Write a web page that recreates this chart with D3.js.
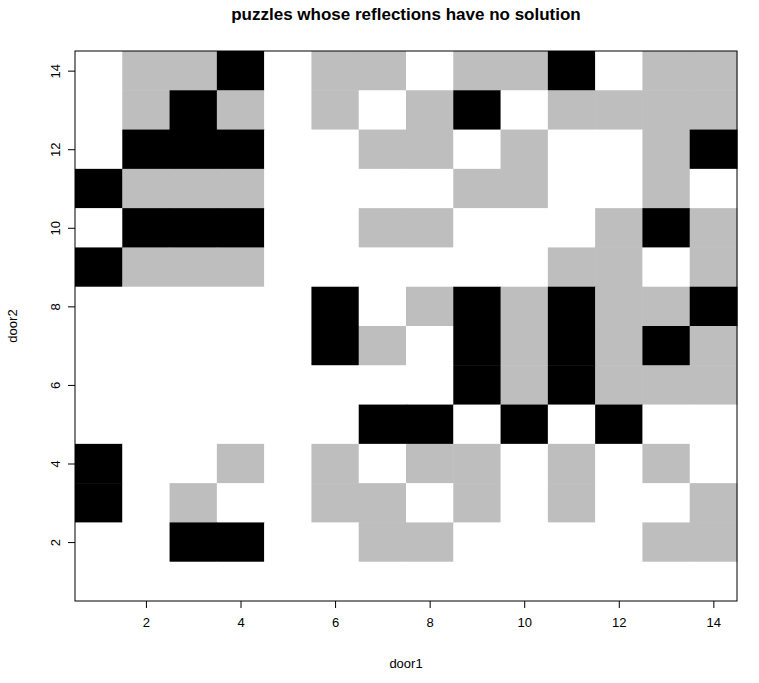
<!DOCTYPE html>
<html><head><meta charset="utf-8">
<script src="https://cdn.jsdelivr.net/npm/d3@7"></script>
<style>body{margin:0;background:#fff}text{font-family:"Liberation Sans",Arial,sans-serif}</style>
</head><body>
<script>
const width = 759, height = 683;
// rows listed from door2 = 14 down to 1; 0 white, 1 grey, 2 black
const row14 = [0,1,1,2,0,1,1,0,1,1,2,0,1,1];
const row13 = [0,1,2,1,0,1,0,1,2,0,1,1,1,1];
const row12 = [0,2,2,2,0,0,1,1,0,1,0,0,1,2];
const row11 = [2,1,1,1,0,0,0,0,1,1,0,0,1,0];
const row10 = [0,2,2,2,0,0,1,1,0,0,0,1,2,1];
const row9  = [2,1,1,1,0,0,0,0,0,0,1,1,0,1];
const row8  = [0,0,0,0,0,2,0,1,2,1,2,1,1,2];
const row7  = [0,0,0,0,0,2,1,0,2,1,2,1,2,1];
const row6  = [0,0,0,0,0,0,0,0,2,1,2,1,1,1];
const row5  = [0,0,0,0,0,0,2,2,0,2,0,2,0,0];
const row4  = [2,0,0,1,0,1,0,1,1,0,1,0,1,0];
const row3  = [2,0,1,0,0,1,1,0,1,0,1,0,0,1];
const row2  = [0,0,2,2,0,0,1,1,0,0,0,0,1,1];
const row1  = [0,0,0,0,0,0,0,0,0,0,0,0,0,0];
const rowsTopDown = [row14,row13,row12,row11,row10,row9,row8,row7,row6,row5,row4,row3,row2,row1];
const ticks = [2, 4, 6, 8, 10, 12, 14];
const colors = ["#ffffff", "#bebebe", "#000000"];

const cells = [];
rowsTopDown.forEach((row, i) => {
  row.forEach((v, j) => cells.push({door1: j + 1, door2: 14 - i, v}));
});

const m = {left: 75, right: 22, top: 51, bottom: 82};
const x = d3.scaleLinear().domain([0.5, 14.5]).range([m.left, width - m.right]);
const y = d3.scaleLinear().domain([0.5, 14.5]).range([height - m.bottom, m.top]);

const svg = d3.select("body").append("svg").attr("width", width).attr("height", height);

svg.append("g").selectAll("rect").data(cells).enter().append("rect")
  .attr("x", d => x(d.door1 - 0.5))
  .attr("y", d => y(d.door2 + 0.5))
  .attr("width", x(1.5) - x(0.5) + 0.5)
  .attr("height", y(0.5) - y(1.5) + 0.5)
  .attr("fill", d => colors[d.v]);

svg.append("rect").attr("x", m.left).attr("y", m.top)
  .attr("width", width - m.left - m.right).attr("height", height - m.top - m.bottom)
  .attr("fill", "none").attr("stroke", "#000");

const xa = svg.append("g").attr("transform", `translate(0,${height - m.bottom})`)
  .call(d3.axisBottom(x).tickValues(ticks).tickSize(7).tickPadding(10).tickSizeOuter(0));
const ya = svg.append("g").attr("transform", `translate(${m.left},0)`)
  .call(d3.axisLeft(y).tickValues(ticks).tickSize(7).tickPadding(6).tickSizeOuter(0));
[xa, ya].forEach(a => {
  a.select(".domain").remove();
  a.attr("font-family", null).attr("font-size", null);
  a.selectAll("text").style("font-size", "13px").style("font-family", "Liberation Sans, Arial, sans-serif");
});
ya.selectAll(".tick text").attr("text-anchor", "middle").attr("x", 0).attr("dy", "0.35em")
  .attr("transform", "translate(-20,0) rotate(-90)");

svg.append("text").attr("x", x(7.5)).attr("y", 20).attr("text-anchor", "middle")
  .attr("font-weight", "bold").attr("font-size", 17).text("puzzles whose reflections have no solution");
svg.append("text").attr("x", x(7.5)).attr("y", 668).attr("text-anchor", "middle")
  .attr("font-size", 13).text("door1");
svg.append("text").attr("transform", `translate(17,${y(7.5)}) rotate(-90)`).attr("text-anchor", "middle")
  .attr("font-size", 13).text("door2");
</script>
</body></html>
